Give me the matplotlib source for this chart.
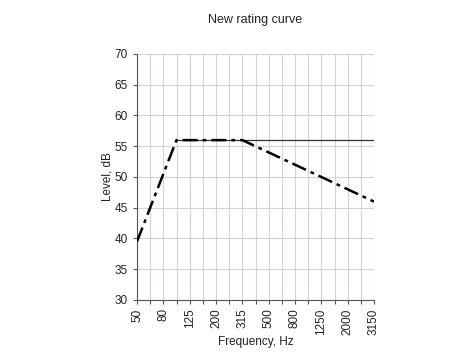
import matplotlib
matplotlib.use("Agg")
import matplotlib.pyplot as plt

freqs = ["50", "63", "80", "100", "125", "160", "200", "250", "315", "400",
         "500", "630", "800", "1000", "1250", "1600", "2000", "2500", "3150"]
new_curve = [39.5, 45, 50.5, 56, 56, 56, 56, 56, 56, 55,
             54, 53, 52, 51, 50, 49, 48, 47, 46]
flat_curve = [None, None, None, 56, 56, 56, 56, 56, 56, 56,
              56, 56, 56, 56, 56, 56, 56, 56, 56]

plt.rcParams['font.family'] = ['Liberation Sans', 'DejaVu Sans']
fig = plt.figure(figsize=(4.74, 3.61), dpi=100)
ax = fig.add_axes([137/474, 1 - 300/361, (374-137)/474, (300-54)/361])

x = list(range(len(freqs)))
fx = [i for i, v in zip(x, flat_curve) if v is not None]
fy = [v for v in flat_curve if v is not None]
ax.plot(fx, fy, color='#333333', lw=0.9, zorder=3)
ax.plot(x, new_curve, color='black', lw=1.8, linestyle=(0, (6, 2, 1.5, 2)), zorder=4)

ax.set_xlim(0, len(freqs) - 1)
ax.set_ylim(30, 70)
ax.set_yticks(range(30, 71, 5))
ax.set_xticks(x)
ax.set_xticklabels([f if i % 2 == 0 else "" for i, f in enumerate(freqs)], rotation=90)
ax.grid(True, color='#ccd5de', lw=0.8)
ax.set_axisbelow(True)
for s in ['top', 'right']:
    ax.spines[s].set_visible(False)
for s in ['left', 'bottom']:
    ax.spines[s].set_color('#555555')
    ax.spines[s].set_linewidth(0.8)
ax.tick_params(axis='both', labelsize=8.5, color='#555555', labelcolor='#222222', length=3, width=0.8)
ax.tick_params(axis='x', pad=3)
ax.set_ylabel("Level, dB", fontsize=8.5, labelpad=1, color='#222222')
ax.set_xlabel("Frequency, Hz", fontsize=8.5, labelpad=1, color='#222222')
fig.text(255/474, 1 - 20/361, "New rating curve", ha='center', va='center', fontsize=9, color='#222222')
fig.savefig("out.png", dpi=100)
